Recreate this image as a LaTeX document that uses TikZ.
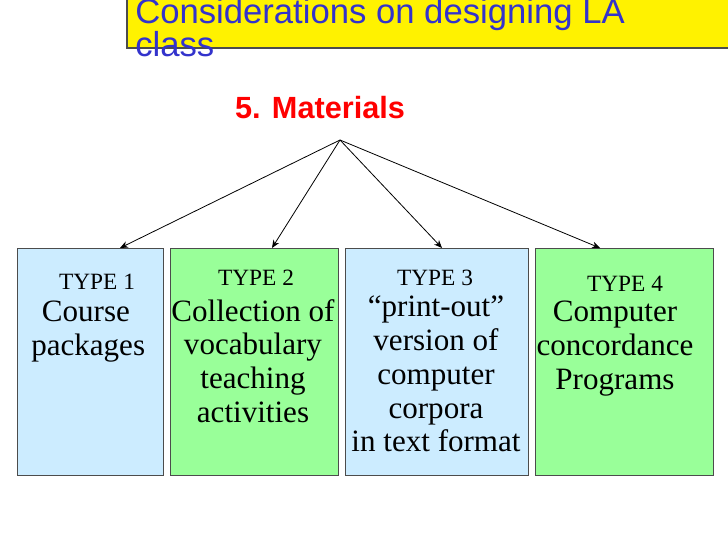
\documentclass[tikz,border=0pt]{standalone}
\usepackage{fontspec}
\setmainfont{Liberation Serif}
\newfontfamily\sansf{Liberation Sans}
\usetikzlibrary{arrows.meta}
\definecolor{lblue}{HTML}{CCECFF}
\definecolor{lgreen}{HTML}{99FF99}
\definecolor{ttl}{HTML}{3333CC}
\tikzset{
 bx/.style={draw=black!70,line width=0.8pt,anchor=north west,inner sep=0pt},
 btxt/.style={align=center,font=\fontsize{23.3}{25.3}\selectfont,anchor=north,inner sep=0pt},
 tlab/.style={font=\fontsize{17.5}{20}\selectfont},
 arr/.style={-{Stealth[length=6pt,width=5pt]},line width=0.6pt}
}
\begin{document}
\begin{tikzpicture}[x=0.75pt,y=-0.75pt]
\useasboundingbox (0,0) rectangle (728,546);
\fill[yellow] (127,-5) rectangle (728,48);
\draw[black!70,line width=0.8pt] (127,-5) -- (127,48) -- (728,48);
\node[anchor=north west,align=left,inner sep=0pt,text=ttl,font=\sansf\fontsize{26}{25}\selectfont] (title) at (135,-2) {Considerations on designing LA\\class};
\node[text=red,font=\sansf\bfseries\fontsize{23}{26}\selectfont] (mat) at (320,108) {5. Materials};
\coordinate (hub) at (340,140);
\node[bx,fill=lblue,minimum width=146pt*0.75,minimum height=227pt*0.75] (b1) at (17,248) {};
\node[bx,fill=lgreen,minimum width=168pt*0.75,minimum height=227pt*0.75] (b2) at (170,248) {};
\node[bx,fill=lblue,minimum width=183pt*0.75,minimum height=227pt*0.75] (b3) at (345,248) {};
\node[bx,fill=lgreen,minimum width=178pt*0.75,minimum height=227pt*0.75] (b4) at (535,248) {};
\draw[arr] (hub) -- (120,248);
\draw[arr] (hub) -- (272,248);
\draw[arr] (hub) -- (442,248);
\draw[arr] (hub) -- (600,248);
\node[tlab] (t1) at (97,282) {TYPE 1};
\node[btxt,align=left,anchor=north west] (x1) at (31,301) {\hspace*{8pt}Course\\packages};
\node[tlab] (t2) at (256,278) {TYPE 2};
\node[btxt] (x2) at (253,299) {Collection of\\vocabulary\\teaching\\activities};
\node[tlab] (t3) at (435,278) {TYPE 3};
\node[btxt] (x3) at (436,296) {``print-out''\\version of\\computer\\corpora\\in text format};
\node[tlab] (t4) at (625,284) {TYPE 4};
\node[btxt] (x4) at (615,301) {Computer\\concordance\\Programs};
\end{tikzpicture}
\end{document}
